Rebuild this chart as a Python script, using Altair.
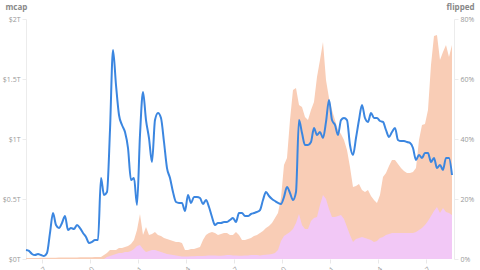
import altair as alt
import pandas as pd

# market cap of series, $ trillions (one sample per period)
mcap = [
    0.075, 0.067, 0.042, 0.033, 0.042, 0.033, 0.025, 0.05, 0.217, 0.383,
    0.283, 0.258, 0.30, 0.358, 0.242, 0.258, 0.25, 0.283, 0.258, 0.217,
    0.183, 0.133, 0.142, 0.158, 0.158, 0.675, 0.533, 0.558, 1.075, 1.742,
    1.45, 1.20, 1.117, 1.058, 0.925, 0.658, 0.675, 0.45, 1.033, 1.392,
    1.158, 1.008, 0.808, 1.158, 1.217, 1.175, 0.975, 0.758, 0.675, 0.558,
    0.475, 0.467, 0.467, 0.40, 0.533, 0.467, 0.517, 0.517, 0.508, 0.458,
    0.492, 0.433, 0.35, 0.283, 0.30, 0.30, 0.308, 0.308, 0.325, 0.342,
    0.308, 0.383, 0.383, 0.358, 0.358, 0.375, 0.383, 0.392, 0.408, 0.492,
    0.558, 0.525, 0.50, 0.483, 0.467, 0.458, 0.517, 0.60, 0.55, 0.492,
    0.558, 1.158, 1.05, 0.95, 0.95, 0.975, 1.092, 1.033, 1.058, 1.008,
    1.142, 1.325, 1.158, 1.117, 1.033, 1.158, 1.175, 1.158, 0.95, 0.867,
    1.008, 1.158, 1.283, 1.175, 1.142, 1.217, 1.175, 1.175, 1.15, 1.142,
    1.075, 1.017, 1.058, 1.092, 0.992, 0.983, 0.983, 0.975, 0.967, 0.925,
    0.825, 0.867, 0.842, 0.883, 0.883, 0.808, 0.842, 0.758, 0.783, 0.742,
    0.842, 0.842, 0.70,
]

# flipped share (%), outer (salmon) area
flipped_a = [
    0.3, 0.3, 0.3, 0.3, 0.3, 0.4, 0.4, 0.4, 0.4, 0.4,
    0.4, 0.5, 0.5, 0.5, 0.5, 0.5, 0.5, 0.5, 0.6, 0.6,
    0.6, 0.6, 0.6, 0.7, 0.7, 0.7, 1.3, 2.0, 3.0, 3.0,
    3.0, 3.7, 3.7, 4.0, 4.3, 5.0, 6.3, 9.7, 15.0, 8.0,
    10.7, 8.0, 8.3, 9.0, 8.0, 7.7, 7.0, 6.7, 6.3, 6.0,
    5.7, 5.7, 5.3, 3.0, 3.0, 3.3, 3.3, 3.7, 4.0, 6.3,
    8.0, 8.7, 9.0, 8.7, 8.0, 8.3, 8.7, 8.7, 8.0, 8.0,
    9.0, 8.0, 6.3, 6.3, 6.7, 7.0, 7.7, 8.0, 8.7, 9.3,
    10.3, 11.0, 12.0, 13.7, 15.3, 20.3, 31.3, 33.7, 46.3, 56.3,
    57.0, 51.3, 50.7, 47.3, 46.3, 49.7, 52.3, 60.7, 66.3, 72.3,
    59.7, 53.7, 49.7, 46.3, 43.0, 41.7, 39.7, 36.3, 30.7, 24.0,
    24.3, 25.0, 23.0, 22.3, 23.0, 21.0, 19.7, 18.7, 21.3, 27.3,
    28.7, 31.0, 33.0, 33.0, 31.7, 30.3, 29.3, 28.7, 28.7, 29.0,
    30.3, 39.7, 44.7, 45.0, 49.7, 64.7, 74.3, 74.7, 66.3, 69.0,
    71.3, 67.3, 71.3,
]

# flipped share (%), inner (pink) area
flipped_b = [0.0] * 27 + [
    0.7, 1.0, 1.3, 1.7, 2.0, 2.0, 2.3, 2.3, 2.7, 3.3,
    4.3, 4.7, 3.3, 2.3, 2.7, 3.0, 3.0, 2.7, 2.3, 2.0,
    1.7, 1.5, 1.3, 1.2, 1.0, 0.8,
    0.8, 0.8, 0.9, 0.9, 1.0, 1.0, 1.0, 1.1, 1.2, 1.2,
    1.2, 1.1, 1.1, 1.2, 1.3, 1.3, 1.2, 1.2, 1.1, 1.1,
    1.2, 1.2, 1.3, 1.3, 1.3, 1.2, 1.3, 1.4, 1.5, 1.7,
    2.0, 3.0, 6.0, 7.7, 8.3, 9.0, 10.0, 12.0, 15.0, 11.3,
    10.0, 10.0, 12.7, 13.7, 14.0, 18.0, 21.3, 20.0, 16.7, 14.0,
    14.0, 14.3, 14.7, 13.3, 10.7, 8.0, 5.7, 6.7, 7.0, 7.3,
    7.0, 6.7, 6.3, 5.7, 6.0, 7.0, 7.3, 8.0, 8.3, 8.7,
    8.7, 8.7, 8.7, 8.7, 8.7, 8.7, 8.7, 9.0, 9.7, 10.3,
    11.3, 12.7, 14.3, 16.0, 17.3, 15.3, 17.0, 15.7, 15.3, 14.7,
]

tick_labels = ["2020-07", "2020-10", "2021-01", "2021-04", "2021-07",
               "2021-10", "2022-01", "2022-04", "2022-07"]
first_tick = 5.333
tick_step = 16
x_max = 142.67
tick_values = [first_tick + tick_step * i for i in range(len(tick_labels))]

mcap_ticks = [0, 0.5, 1, 1.5, 2]
pct_ticks = [0, 20, 40, 60, 80]

df = pd.DataFrame({
    "t": list(range(len(mcap))),
    "mcap": mcap,
    "fa": flipped_a,
    "fb": flipped_b,
})

FONT = "Open Sans"
label_js = "[" + ",".join("'%s'" % s for s in tick_labels) + "]"

x_enc = alt.X(
    "t:Q",
    scale=alt.Scale(domain=[0, x_max], nice=False, zero=False),
    axis=alt.Axis(
        values=tick_values,
        labelExpr=label_js + "[round((datum.value - %s) / %s)]" % (first_tick, tick_step),
        labelAngle=-45,
        labelFontSize=7,
        labelColor="#999999",
        labelFont=FONT,
        grid=False,
        domain=False,
        tickColor="#e8e8e8",
        tickSize=4,
        title=None,
    ),
)

right_axis = alt.Axis(
    orient="right",
    values=pct_ticks,
    labelExpr="datum.value + '%'",
    labelFontSize=7,
    labelColor="#999999",
    labelFont=FONT,
    grid=False,
    domainColor="#ececec",
    tickColor="#ececec",
    tickSize=4,
    title="flipped",
    titleAngle=0,
    titleX=20,
    titleY=-12,
    titleAlign="right",
    titleBaseline="middle",
    titleFontSize=8,
    titleFontWeight="bold",
    titleColor="#888888",
    titleFont=FONT,
)

y_pct = alt.Scale(domain=[0, 80], nice=False)

area_a = alt.Chart(df).mark_area(color="#f9cdb6", opacity=1).encode(
    x=x_enc,
    y=alt.Y("fa:Q", scale=y_pct, axis=right_axis),
)
area_b = alt.Chart(df).mark_area(color="#f2c8f6", opacity=1).encode(
    x=x_enc,
    y=alt.Y("fb:Q", scale=y_pct, axis=right_axis),
)

line = alt.Chart(df).mark_line(color="#3b86e0", strokeWidth=2, interpolate="monotone").encode(
    x=x_enc,
    y=alt.Y(
        "mcap:Q",
        scale=alt.Scale(domain=[0, 2], nice=False),
        axis=alt.Axis(
            orient="left",
            values=mcap_ticks,
            labelExpr="'$' + datum.value + 'T'",
            labelFontSize=7,
            labelColor="#999999",
            labelFont=FONT,
            gridColor="#eeeeee",
            domainColor="#ececec",
            tickColor="#ececec",
            tickSize=4,
            title="mcap",
            titleAngle=0,
            titleX=-21,
            titleY=-12,
            titleAlign="left",
            titleBaseline="middle",
            titleFontSize=8,
            titleFontWeight="bold",
            titleColor="#888888",
            titleFont=FONT,
        ),
    ),
)

chart = (
    alt.layer(alt.layer(area_a, area_b), line)
    .resolve_scale(y="independent")
    .properties(
        width=428,
        height=240,
        padding={"left": 26, "top": 19, "right": 26, "bottom": 11},
        autosize=alt.AutoSizeParams(type="none"),
        background="white",
    )
    .configure_view(stroke=None)
)

chart.save("out.html", embed_options={"renderer": "svg", "actions": False})
